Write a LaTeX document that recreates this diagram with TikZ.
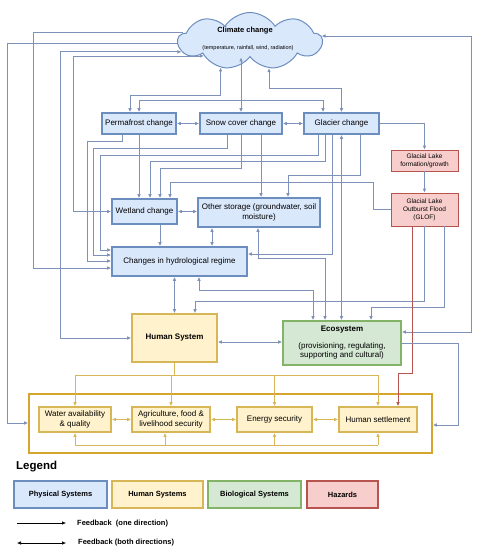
\documentclass[tikz,border=0pt]{standalone}
\usepackage{fontspec}
\setmainfont{Liberation Sans}
\usetikzlibrary{arrows.meta, shapes.symbols}
\definecolor{physfill}{HTML}{DAE8FC}
\definecolor{physline}{HTML}{6C8EBF}
\definecolor{humfill}{HTML}{FFF2CC}
\definecolor{humline}{HTML}{D6B656}
\definecolor{biofill}{HTML}{D5E8D4}
\definecolor{bioline}{HTML}{82B366}
\definecolor{hazfill}{HTML}{F8CECC}
\definecolor{hazline}{HTML}{B85450}
\definecolor{linkblue}{RGB}{125,145,185}
\definecolor{goldline}{RGB}{214,165,45}

\begin{document}
\begin{tikzpicture}[x=1pt, y=-1pt, >={Latex[length=4pt,width=3.6pt]},
    phys/.style={draw=physline, fill=physfill, line width=1.6pt, inner sep=1pt, align=center, font=\fontsize{8}{9.5}\selectfont},
    hum/.style={phys, draw=humline, fill=humfill},
    bio/.style={phys, draw=bioline, fill=biofill},
    haz/.style={draw=hazline, fill=hazfill, line width=0.6pt, inner sep=1pt, align=center, font=\fontsize{6.5}{8}\selectfont},
    leg/.style={line width=1.6pt, minimum height=27pt, font=\fontsize{7.5}{9}\selectfont\bfseries},
    link/.style={linkblue, line width=0.8pt, ->},
    both/.style={linkblue, line width=0.8pt, <->},
    hlink/.style={humline, line width=0.8pt},
  ]
    \useasboundingbox (0,0) rectangle (480,551);

    % climate
    \node[cloud, cloud puffs=9, cloud puff arc=115, aspect=2.6, draw=physline, fill=physfill, line width=1pt, minimum width=144pt, minimum height=57pt, inner sep=0pt] (cc) at (250,41) {};
    \node[font=\fontsize{7.5}{9}\selectfont\bfseries, inner sep=0pt] (cct) at (245,31) {Climate change};
    \node[font=\fontsize{5.5}{7}\selectfont, inner sep=0pt] (ccs) at (248,48) {(temperature, rainfall, wind, radiation)};

    % physical systems
    \node[phys, minimum width=74pt, minimum height=21pt] (pf) at (139,123.5) {Permafrost change};
    \node[phys, minimum width=82pt, minimum height=21pt] (sc) at (241,123.5) {Snow cover change};
    \node[phys, minimum width=75pt, minimum height=21pt] (gc) at (341.5,123.5) {Glacier change};
    \node[phys, minimum width=65pt, minimum height=25pt] (wl) at (144.5,211.5) {Wetland change};
    \node[phys, minimum width=122pt, minimum height=29pt] (os) at (259,212.5) {Other storage (groundwater, soil\\moisture)};
    \node[phys, minimum width=135pt, minimum height=29pt] (hr) at (179.5,261.5) {Changes in hydrological regime};

    % hazards
    \node[haz, minimum width=67pt, minimum height=21pt] (glf) at (424.5,160.5) {Glacial Lake\\formation/growth};
    \node[haz, minimum width=67pt, minimum height=33pt] (glof) at (424.5,209.5) {Glacial Lake\\Outburst Flood\\(GLOF)};

    % human and ecosystem
    \node[hum, minimum width=85pt, minimum height=48pt, font=\fontsize{8}{9.5}\selectfont\bfseries] (hs) at (174.5,338) {Human System};
    \node[bio, minimum width=118pt, minimum height=44pt] (eco) at (342,343) {\textbf{Ecosystem}\\[7pt](provisioning, regulating,\\supporting and cultural)};

    \node[draw=goldline, line width=1.6pt, minimum width=403pt, minimum height=59pt] (hc) at (230.5,423.5) {};
    \node[hum, minimum width=72pt, minimum height=25pt] (wa) at (75,419.5) {Water availability\\\& quality};
    \node[hum, minimum width=78pt, minimum height=25pt] (af) at (171,419.5) {Agriculture, food \&\\livelihood security};
    \node[hum, minimum width=75pt, minimum height=25pt] (es) at (274.5,419.5) {Energy security};
    \node[hum, minimum width=78pt, minimum height=25pt] (hst) at (378,419.5) {Human settlement};

    % links from climate
    \draw[link] (cc.173) -| (33,268) -- (hr.west |- 0,268);
    \draw[link] (cc.182) -| (7,423) -- (hc.west |- 0,423);
    \draw[both] (cc.189) -| (60,338) -- (hs.west);
    \draw[both] (cc.198) -| (73,211.5) -- (wl.west);
    \draw[both] (cc.4) -| (471,332) -- (eco.east |- 0,332);
    \draw[both] (cc.222) |- (130,95) -- (pf.north -| 130,0);
    \draw[both] (sc.north |- cc.south) -- (sc.north);
    \draw[both] (cc.305) |- (gc.north |- 0,88) -- (gc.north);
    \draw[both] (pf.north) |- (323,100) -- (gc.north -| 323,0);

    % cryosphere
    \draw[both] (pf.east) -- (sc.west);
    \draw[both] (sc.east) -- (gc.west);
    \draw[link] (gc.east) -| (glf.north);
    \draw[link] (glf) -- (glof);
    \draw[link] (pf.south -| 122,0) |- (87,141) |- (hr.west |- 0,261);
    \draw[link] (sc.south -| 227,0) |- (93,148) |- (hr.west |- 0,255);
    \draw[link] (gc.south -| 318,0) |- (100,155) |- (hr.west |- 0,250);
    \draw[link] (pf.south) -- (wl.north -| pf.south);
    \draw[link] (gc.south -| 325,0) |- (150,161) -- (wl.north -| 150,0);
    \draw[link] (sc.south) |- (160,168) -- (wl.north -| 160,0);
    \draw[link] (sc.south -| 261,0) -- (os.north -| 261,0);
    \draw[link] (gc.south -| 360,0) |- (288,175) -- (os.north -| 288,0);
    \draw[link] (glof.west) -| (373,182) -| (wl.north -| 170,0);
    \draw[link] (gc.south -| 332,0) |- (hr.east |- 0,254);
    \draw[both] (gc.south) -- (eco.north -| gc.south);

    % storage and regime
    \draw[both] (wl.east) -- (os.west |- wl.east);
    \draw[link] (wl.south -| 160,0) -- (hr.north -| 160,0);
    \draw[both] (os.south -| 212,0) -- (hr.north -| 212,0);
    \draw[both] (os.south -| 258,0) |- (325,258) -- (eco.north -| 325,0);
    \draw[both] (hr.south -| hs.north) -- (hs.north);
    \draw[both] (hr.south -| 199,0) |- (313,290) -- (eco.north -| 313,0);
    \draw[link] (glof.south) |- (195,301) -- (hs.north -| 195,0);
    \draw[link] (glof.south -| 444,0) |- (371,307) -- (eco.north -| 371,0);
    \draw[hazline, line width=0.8pt, ->] (glof.south -| 412,0) |- (398,373) -- (hst.north -| 398,0);
    \draw[both] (hs.east |- 0,342) -- (eco.west |- 0,342);
    \draw[link] (eco.east) -| (458,425) -- (hc.east |- 0,425);

    % human sectors
    \draw[hlink] (hs.south) -- (hs.south |- 0,375);
    \draw[hlink] (wa.north |- 0,375) -- (hst.north |- 0,375);
    \foreach \b in {wa,af,es,hst}
        \draw[hlink, ->] (\b.north |- 0,375) -- (\b.north);
    \draw[hlink] (wa.south |- 0,445) -- (hst.south |- 0,445);
    \foreach \b/\x in {wa/75,af/165,es/274.5,hst/378}
        \draw[hlink, ->] (\x,445) -- (\b.south -| \x,0);
    \draw[hlink, <->] (wa) -- (af);
    \draw[hlink, <->] (af) -- (es);
    \draw[hlink, <->] (es) -- (hst);

    % legend
    \node[anchor=west, inner sep=0pt, font=\fontsize{11.5}{13}\selectfont\bfseries] (lg) at (16,467) {Legend};
    \node[leg, draw=physline, fill=physfill, minimum width=93pt] (lphys) at (60.5,494.5) {Physical Systems};
    \node[leg, draw=humline, fill=humfill, minimum width=91pt] (lhum) at (157.5,494.5) {Human Systems};
    \node[leg, draw=bioline, fill=biofill, minimum width=93pt] (lbio) at (254.5,494.5) {Biological Systems};
    \node[leg, draw=hazline, fill=hazfill, minimum width=71pt] (lhaz) at (342.5,494.5) {Hazards};
    \coordinate (f1a) at (17,523);
    \coordinate (f1b) at (66,523);
    \coordinate (f2a) at (17,543);
    \coordinate (f2b) at (66,543);
    \draw[line width=0.6pt, ->] (f1a) -- (f1b);
    \draw[line width=0.6pt, <->] (f2a) -- (f2b);
    \node[anchor=west, inner sep=0pt, font=\fontsize{7.5}{9}\selectfont\bfseries] (f1) at (77,524) {Feedback\ \ (one direction)};
    \node[anchor=west, inner sep=0pt, font=\fontsize{7.5}{9}\selectfont\bfseries] (f2) at (78,543) {Feedback (both directions)};
\end{tikzpicture}
\end{document}
